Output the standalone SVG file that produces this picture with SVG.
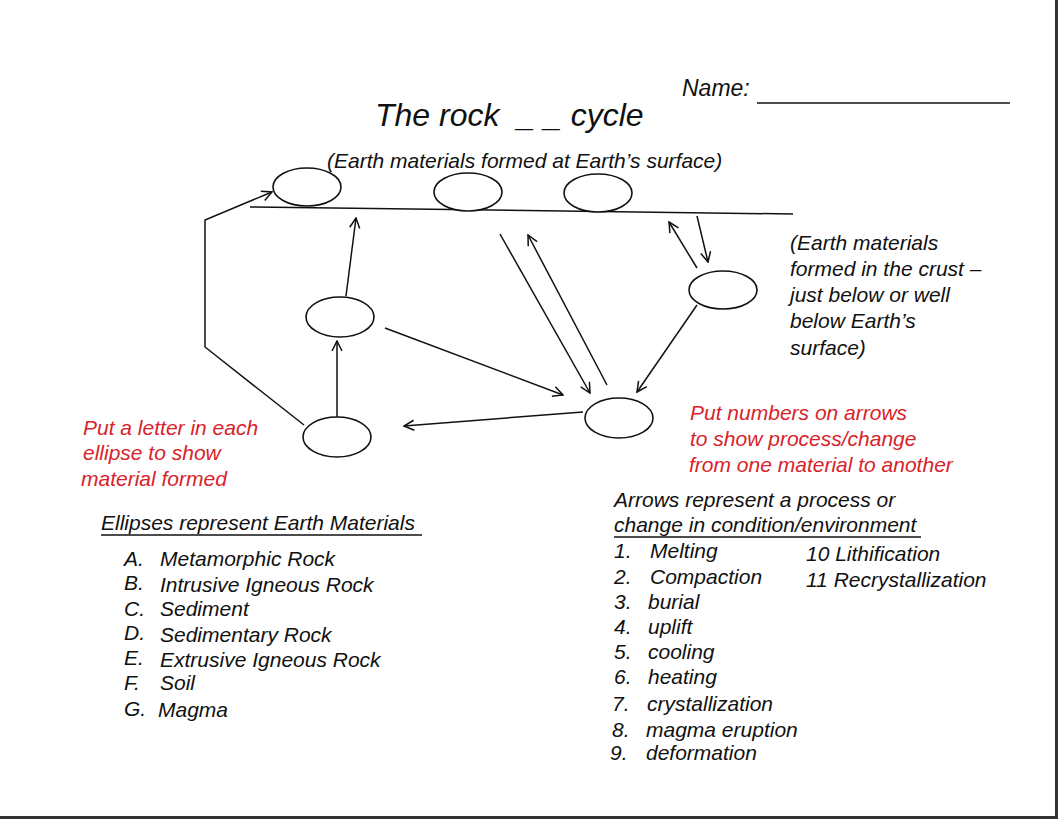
<svg xmlns="http://www.w3.org/2000/svg" width="1058" height="819" viewBox="0 0 1058 819">
<style>
text{font-family:"Liberation Sans",Arial,sans-serif;font-style:italic;fill:#111;font-size:21px}
text.red{fill:#d8232a}
text.title{font-size:32px}
text.name{font-size:23px}
.e{fill:#fff;stroke:#111;stroke-width:1.6}
.c{fill:none;stroke:#111;stroke-width:1.5}
</style>
<defs><marker id="a" viewBox="0 0 12 12" refX="11" refY="6" markerWidth="12" markerHeight="12" markerUnits="userSpaceOnUse" orient="auto"><path d="M1,1 L11,6 L1,11" fill="none" stroke="#111" stroke-width="1.5"/></marker></defs>
<rect width="1058" height="819" fill="#fff"/>
<rect x="1055" y="0" width="3" height="819" fill="#333"/>
<rect x="0" y="816" width="1058" height="3" fill="#333"/>
<text class="title" x="375" y="126" xml:space="preserve">The rock  _ _ cycle</text>
<text class="name" x="682" y="96">Name:</text>
<line x1="757" y1="103" x2="1010" y2="103" stroke="#111" stroke-width="1.5"/>
<text x="327" y="168">(Earth materials formed at Earth’s surface)</text>
<g id="right-text"><text x="790" y="250">(Earth materials</text><text x="790" y="276">formed in the crust –</text><text x="790" y="302">just below or well</text><text x="790" y="328">below Earth’s</text><text x="790" y="355">surface)</text></g>
<g id="red-left"><text class="red" x="83" y="435">Put a letter in each</text><text class="red" x="83" y="460">ellipse to show</text><text class="red" x="81" y="486">material formed</text></g>
<g id="red-right"><text class="red" x="690" y="420">Put numbers on arrows</text><text class="red" x="690" y="446">to show process/change</text><text class="red" x="689" y="472">from one material to another</text></g>
<g id="connectors">
<line class="c" x1="250" y1="207" x2="793" y2="214"/>
<line class="c" x1="337" y1="417" x2="337" y2="341" marker-end="url(#a)"/>
<line class="c" x1="346" y1="296" x2="356" y2="218" marker-end="url(#a)"/>
<polyline class="c" points="304,425 205,347 205,220 272,192" marker-end="url(#a)"/>
<line class="c" x1="385" y1="328" x2="563" y2="395" marker-end="url(#a)"/>
<line class="c" x1="500" y1="234" x2="590" y2="393" marker-end="url(#a)"/>
<line class="c" x1="607" y1="385" x2="528" y2="235" marker-end="url(#a)"/>
<line class="c" x1="697" y1="268" x2="669" y2="222" marker-end="url(#a)"/>
<line class="c" x1="697" y1="216" x2="708" y2="262" marker-end="url(#a)"/>
<line class="c" x1="697" y1="305" x2="637" y2="392" marker-end="url(#a)"/>
<line class="c" x1="583" y1="412" x2="404" y2="426" marker-end="url(#a)"/>
</g>
<g id="n1"><ellipse class="e" cx="307" cy="187" rx="34" ry="19"/></g>
<g id="n2"><ellipse class="e" cx="468" cy="192" rx="34" ry="19"/></g>
<g id="n3"><ellipse class="e" cx="598" cy="193" rx="34" ry="19"/></g>
<g id="n4"><ellipse class="e" cx="723" cy="290" rx="34" ry="19"/></g>
<g id="n5"><ellipse class="e" cx="340" cy="317" rx="34" ry="20"/></g>
<g id="n6"><ellipse class="e" cx="337" cy="437" rx="34" ry="20"/></g>
<g id="n7"><ellipse class="e" cx="619" cy="418" rx="34" ry="20"/></g>
<g id="legend-left">
<text x="101" y="530">Ellipses represent Earth Materials</text>
<line x1="101" y1="535" x2="422" y2="535" stroke="#111" stroke-width="1.5"/>
<text x="124" y="566">A.</text><text x="160" y="566">Metamorphic Rock</text>
<text x="124" y="590">B.</text><text x="160" y="592">Intrusive Igneous Rock</text>
<text x="124" y="616">C.</text><text x="160" y="616">Sediment</text>
<text x="124" y="640">D.</text><text x="160" y="642">Sedimentary Rock</text>
<text x="124" y="665">E.</text><text x="160" y="667">Extrusive Igneous Rock</text>
<text x="124" y="690">F.</text><text x="160" y="690">Soil</text>
<text x="124" y="716">G.</text><text x="158" y="717">Magma</text>
</g>
<g id="legend-right">
<text x="614" y="507">Arrows represent a process or</text>
<text x="614" y="532">change in condition/environment</text>
<line x1="614" y1="537" x2="921" y2="537" stroke="#111" stroke-width="1.5"/>
<text x="614" y="558">1.</text><text x="650" y="558">Melting</text>
<text x="614" y="584">2.</text><text x="650" y="584">Compaction</text>
<text x="614" y="609">3.</text><text x="648" y="609">burial</text>
<text x="614" y="634">4.</text><text x="648" y="634">uplift</text>
<text x="614" y="659">5.</text><text x="648" y="659">cooling</text>
<text x="614" y="684">6.</text><text x="648" y="684">heating</text>
<text x="612" y="711">7.</text><text x="647" y="711">crystallization</text>
<text x="612" y="737">8.</text><text x="646" y="737">magma eruption</text>
<text x="610" y="760">9.</text><text x="646" y="760">deformation</text>
<text x="806" y="561">10 Lithification</text>
<text x="806" y="587">11 Recrystallization</text>
</g>
</svg>
